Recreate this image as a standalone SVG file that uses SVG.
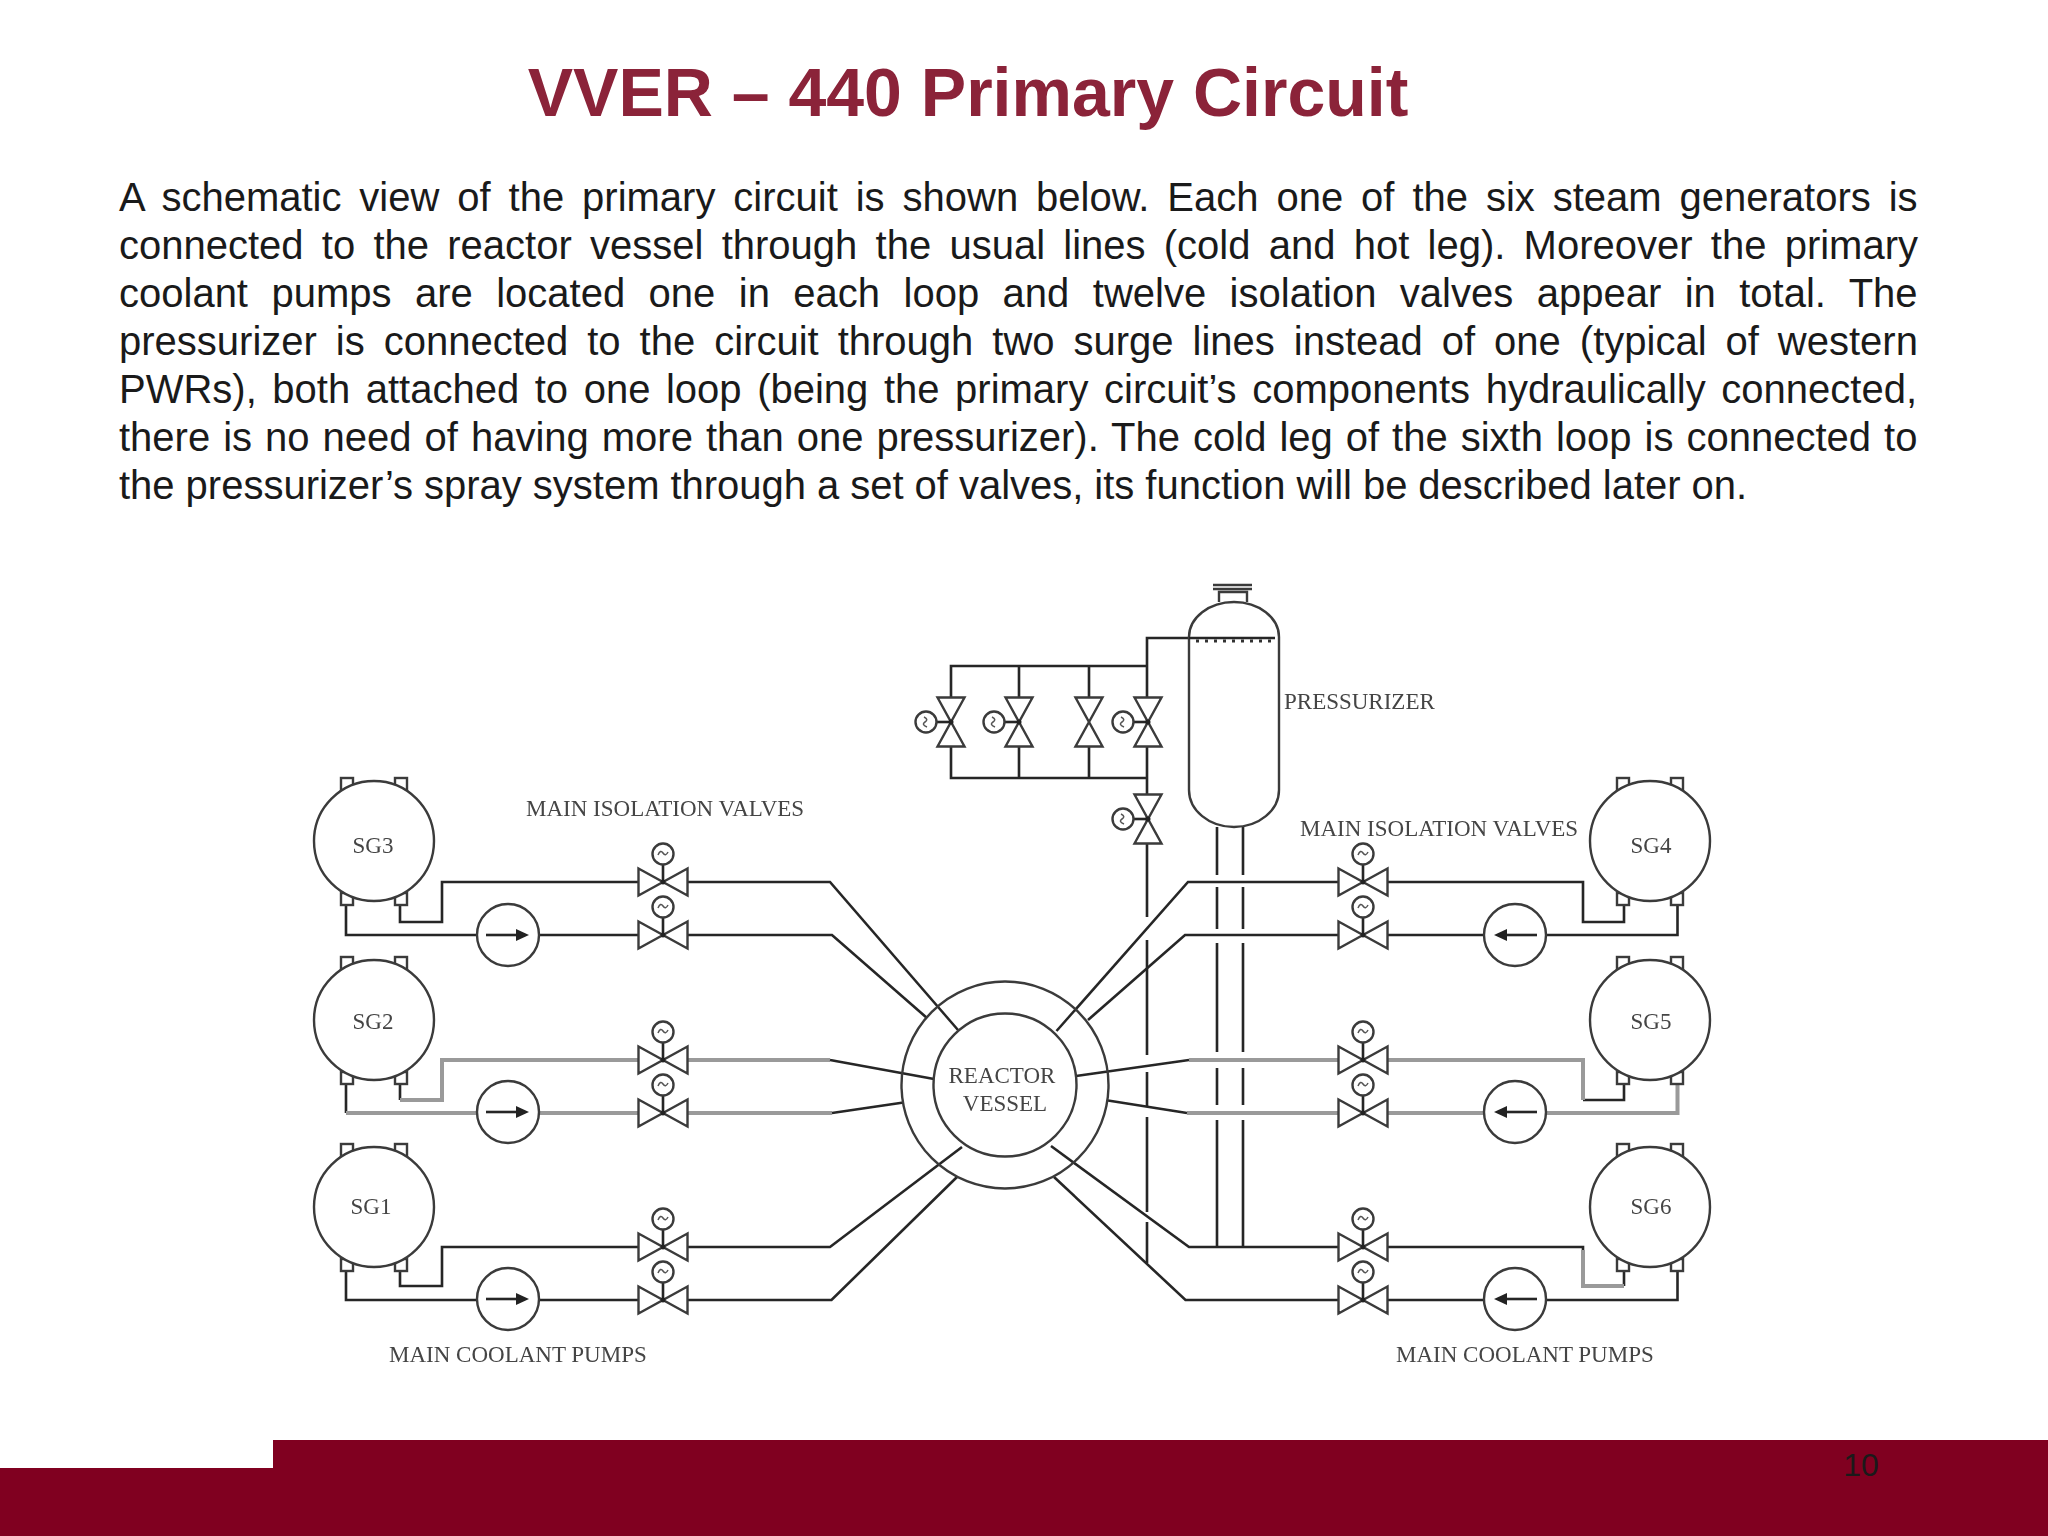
<svg xmlns="http://www.w3.org/2000/svg" width="2048" height="1536" viewBox="0 0 2048 1536">
<style>
.title{font:bold 68px "Liberation Sans",Arial,sans-serif;fill:#8b2339}
.body{font:40px "Liberation Sans",Arial,sans-serif;fill:#1a1a1a}
.lab{font:23px "Liberation Serif","Times New Roman",serif;fill:#444}
.mid{text-anchor:middle}
.p{fill:none;stroke:#262626;stroke-width:2.6;stroke-linejoin:miter}
.g{fill:none;stroke:#9a9a9a;stroke-width:4}
.s{fill:#fff;stroke:#3a3a3a;stroke-width:2.4}
.n{fill:none;stroke:#3a3a3a;stroke-width:2.4}
.thin{fill:none;stroke:#555;stroke-width:1.5}
.bar{fill:#800020}
</style>
<defs>
<filter id="soft" x="-2%" y="-2%" width="104%" height="104%"><feGaussianBlur stdDeviation="0.55"/></filter>
<g id="valve">
<path class="s" d="M-24.5,-13.5L0,0L-24.5,13.5ZM24.5,-13.5L0,0L24.5,13.5Z"/>
<path class="p" d="M0,0V-17"/>
<circle class="s" cx="0" cy="-28" r="10.5"/>
<path class="thin" d="M-5,-27q2.500,-6 5,-2t5,-1"/>
<circle cx="0" cy="0" r="2.500" fill="#222"/>
</g>
<g id="valvev">
<path class="s" d="M-24.5,-13.5L0,0L-24.5,13.5ZM24.5,-13.5L0,0L24.5,13.5Z"/>
<path class="p" d="M0,0V-15"/>
<circle class="s" cx="0" cy="-25" r="10.5"/>
<path class="thin" d="M-5,-24q2.500,-6 5,-2t5,-1"/>
<circle cx="0" cy="0" r="2.500" fill="#222"/>
</g>
<g id="plainvalve">
<path class="s" d="M-24.5,-13.500L0,0L-24.5,13.500ZM24.500,-13.500L0,0L24.500,13.500Z"/>
</g>
<g id="sg">
<rect class="s" x="-33" y="-63" width="12" height="13"/>
<rect class="s" x="21" y="-63" width="12" height="13"/>
<rect class="s" x="-33" y="52" width="12" height="12"/>
<rect class="s" x="21" y="52" width="12" height="12"/>
<circle class="s" cx="0" cy="0" r="60"/>
</g>
<g id="pump">
<circle class="s" cx="0" cy="0" r="31"/>
<path class="p" d="M-22,0H10"/>
<path d="M8,-6L21,0L8,6Z" fill="#222"/>
</g>
</defs>
<rect width="2048" height="1536" fill="#fff"/>
<g id="footer">
<rect class="bar" x="0" y="1468" width="273" height="68"/>
<rect class="bar" x="273" y="1440" width="1775" height="96"/>
<text x="1861" y="1476" font-family="Liberation Sans, Arial, sans-serif" font-size="32" fill="#1a1a1a" text-anchor="middle">10</text>
</g>
<text class="title" x="968" y="116" text-anchor="middle">VVER – 440 Primary Circuit</text>
<g id="paragraph">
<text class="body" x="119" y="211" word-spacing="6.8">A schematic view of the primary circuit is shown below. Each one of the six steam generators is</text>
<text class="body" x="119" y="259" word-spacing="7.13">connected to the reactor vessel through the usual lines (cold and hot leg). Moreover the primary</text>
<text class="body" x="119" y="307" word-spacing="12.33">coolant pumps are located one in each loop and twelve isolation valves appear in total. The</text>
<text class="body" x="119" y="355" word-spacing="7.87">pressurizer is connected to the circuit through two surge lines instead of one (typical of western</text>
<text class="body" x="119" y="403" word-spacing="4.45">PWRs), both attached to one loop (being the primary circuit’s components hydraulically connected,</text>
<text class="body" x="119" y="451" word-spacing="1.89">there is no need of having more than one pressurizer). The cold leg of the sixth loop is connected to</text>
<text class="body" x="119" y="499" word-spacing="-0.15">the pressurizer’s spray system through a set of valves, its function will be described later on.</text>
</g>
<g id="diagram" filter="url(#soft)">
<g id="connectors">
<path class="p" d="M400,904V922H442V882H830L958,1030"/>
<path class="p" d="M346,904V935H832L927,1018"/>
<path class="p" d="M1624,904V922H1583V882H1188L1056.500,1031"/>
<path class="p" d="M1677.500,904V935H1185L1088,1020"/>
<path class="p" d="M400,1083V1100"/>
<path class="g" d="M400,1100H442V1060H830"/>
<path class="p" d="M830,1060L934,1079"/>
<path class="p" d="M346,1083V1113"/>
<path class="g" d="M346,1113H832"/>
<path class="p" d="M832,1113L903.500,1102.500"/>
<path class="p" d="M1624,1083V1100H1583"/>
<path class="g" d="M1583,1100V1060H1189"/>
<path class="p" d="M1189,1060L1076,1076"/>
<path class="g" d="M1677.500,1083V1113H1187"/>
<path class="p" d="M1187,1113L1108,1100.500"/>
<path class="p" d="M400,1270V1286H442V1247H830L962,1147"/>
<path class="p" d="M346,1270V1300H831.500L957,1177"/>
<path class="p" d="M1624,1270V1286"/>
<path class="g" d="M1624,1286H1583V1250"/>
<path class="p" d="M1583,1250V1247H1189L1051,1146"/>
<path class="p" d="M1677.500,1270V1300H1185.500L1054,1177"/>
<path class="p" d="M1189,638H1147V917M1147,940V1055M1147,1072V1107M1147,1117V1212M1147,1222V1263"/>
<path class="p" d="M951,746V778H1147M1019,746V778M1089,746V778M951,697V666H1147M1019,697V666M1089,697V666"/>
<path class="p" d="M1217,827V875M1217,887V929M1217,943V1052M1217,1068V1105M1217,1120V1246"/>
<path class="p" d="M1243,827V875M1243,887V929M1243,943V1052M1243,1068V1105M1243,1120V1246"/>
</g>
<g id="reactor">
<circle class="n" cx="1005" cy="1085" r="103.500"/>
<circle class="n" cx="1005" cy="1085" r="71.500"/>
<text class="lab mid" x="1002" y="1083">REACTOR</text>
<text class="lab mid" x="1005" y="1111">VESSEL</text>
</g>
<g id="pressurizer">
<path class="n" d="M1189,790V637A45,35 0 0 1 1279,637V790A45,37 0 0 1 1189,790Z"/>
<path class="n" d="M1219,602V592H1247V602M1213,585H1252M1213,589H1252"/>
<path class="p" d="M1189,638H1275"/>
<path fill="none" stroke="#333" stroke-width="3" stroke-dasharray="3 6" d="M1196,641H1272"/>
<text class="lab" x="1284" y="709">PRESSURIZER</text>
</g>
<g id="spray-valves">
<use href="#valvev" transform="translate(951,722) rotate(-90)"/>
<use href="#valvev" transform="translate(1019,722) rotate(-90)"/>
<use href="#plainvalve" transform="translate(1089,722) rotate(90)"/>
<use href="#valvev" transform="translate(1148,722) rotate(-90)"/>
<use href="#valvev" transform="translate(1148,819) rotate(-90)"/>
</g>
<g id="sg3"><use href="#sg" x="374" y="841"/><text class="lab mid" x="373" y="853">SG3</text></g>
<g id="sg2"><use href="#sg" x="374" y="1020"/><text class="lab mid" x="373" y="1029">SG2</text></g>
<g id="sg1"><use href="#sg" x="374" y="1207"/><text class="lab mid" x="371" y="1214">SG1</text></g>
<g id="sg4"><use href="#sg" x="1650" y="841"/><text class="lab mid" x="1651" y="853">SG4</text></g>
<g id="sg5"><use href="#sg" x="1650" y="1020"/><text class="lab mid" x="1651" y="1029">SG5</text></g>
<g id="sg6"><use href="#sg" x="1650" y="1207"/><text class="lab mid" x="1651" y="1214">SG6</text></g>
<g id="pumps-left">
<use href="#pump" x="508" y="935"/>
<use href="#pump" x="508" y="1112"/>
<use href="#pump" x="508" y="1299"/>
</g>
<g id="pumps-right">
<use href="#pump" transform="translate(1515,935) scale(-1,1)"/>
<use href="#pump" transform="translate(1515,1112) scale(-1,1)"/>
<use href="#pump" transform="translate(1515,1299) scale(-1,1)"/>
</g>
<g id="valves-left">
<use href="#valve" x="663" y="882"/>
<use href="#valve" x="663" y="935"/>
<use href="#valve" x="663" y="1060"/>
<use href="#valve" x="663" y="1113"/>
<use href="#valve" x="663" y="1247"/>
<use href="#valve" x="663" y="1300"/>
</g>
<g id="valves-right">
<use href="#valve" x="1363" y="882"/>
<use href="#valve" x="1363" y="935"/>
<use href="#valve" x="1363" y="1060"/>
<use href="#valve" x="1363" y="1113"/>
<use href="#valve" x="1363" y="1247"/>
<use href="#valve" x="1363" y="1300"/>
</g>
<g id="labels">
<text class="lab" x="526" y="816">MAIN ISOLATION VALVES</text>
<text class="lab" x="1300" y="836">MAIN ISOLATION VALVES</text>
<text class="lab" x="389" y="1362">MAIN COOLANT PUMPS</text>
<text class="lab" x="1396" y="1362">MAIN COOLANT PUMPS</text>
</g>
</g>
</svg>
